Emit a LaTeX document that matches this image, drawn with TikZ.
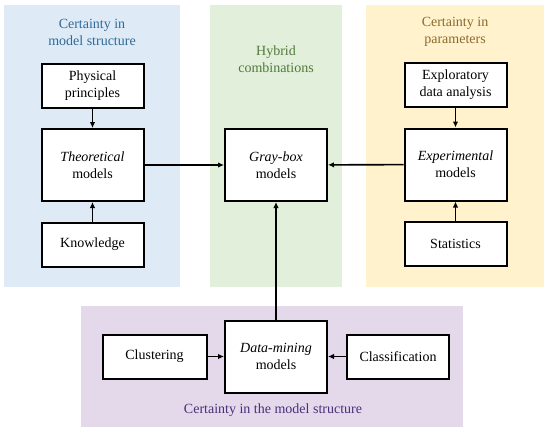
\documentclass[tikz,border=0pt]{standalone}
\usepackage{fontspec}
\setmainfont{Liberation Serif}
\newfontfamily\figfont{Liberation Serif}
\usetikzlibrary{arrows.meta}
\definecolor{pblue}{HTML}{DEEAF6}
\definecolor{pgreen}{HTML}{E2EFDA}
\definecolor{pyellow}{HTML}{FFF2CC}
\definecolor{ppurple}{HTML}{E3D9EB}
\definecolor{tblue}{HTML}{2F6B9A}
\definecolor{tgreen}{HTML}{507A3C}
\definecolor{tyellow}{HTML}{8A6A2E}
\definecolor{tpurple}{HTML}{4B2E78}
\tikzset{
  lbl/.style={font=\figfont\fontsize{14}{17}\selectfont, align=center, inner sep=0pt},
  box/.style={lbl, draw=black, fill=white, line width=2pt, minimum width=102pt},
  smallbox/.style={box, minimum height=44pt},
  bigbox/.style={box, minimum height=72pt},
  conn/.style={line width=1.6pt, -{Latex[length=6pt,width=5.5pt]}}
}
\begin{document}
\begin{tikzpicture}[x=1pt,y=-1pt]
\useasboundingbox (0,0) rectangle (550,434);
\fill[white] (0,0) rectangle (550,434);
% panels
\fill[pblue] (4,5) rectangle (180,287);
\fill[pgreen] (210,5) rectangle (342,287);
\fill[pyellow] (366,5) rectangle (544,287);
\fill[ppurple] (81,306) rectangle (463,427);
% titles
\node[lbl, text=tblue] (t1) at (92,32) {Certainty in\\model structure};
\node[lbl, text=tgreen] (t2) at (276,59) {Hybrid\\combinations};
\node[lbl, text=tyellow] (t3) at (455,32) {Certainty in\\parameters};
\node[lbl, text=tpurple] (t4) at (273,410) {Certainty in the model structure};
% boxes
\node[smallbox] (phys) at (92.5,85.5) {Physical\\principles};
\node[bigbox] (theo) at (92.5,165) {\textit{Theoretical}\\models};
\node[smallbox] (know) at (92.5,244.5) {Knowledge};
\node[bigbox] (gray) at (276,165) {\textit{Gray-box}\\models};
\node[smallbox] (expl) at (455.5,84.5) {Exploratory\\data analysis};
\node[bigbox] (expe) at (455.5,164.5) {\textit{Experimental}\\models};
\node[smallbox] (stat) at (455.5,244) {Statistics};
\node[bigbox] (dm) at (276,356.5) {\textit{Data-mining}\\models};
\node[smallbox, minimum width=104pt] (clus) at (154.5,356.5) {Clustering};
\node[smallbox] (clas) at (398,356.5) {Classification};
% connectors
\draw[conn] (phys) -- (theo);
\draw[conn] (know) -- (theo);
\draw[conn] (theo) -- (gray);
\draw[conn] (expe) -- (gray);
\draw[conn] (expl) -- (expe);
\draw[conn] (stat) -- (expe);
\draw[conn] (dm) -- (gray);
\draw[conn] (clus) -- (dm);
\draw[conn] (clas) -- (dm);
\end{tikzpicture}
\end{document}
